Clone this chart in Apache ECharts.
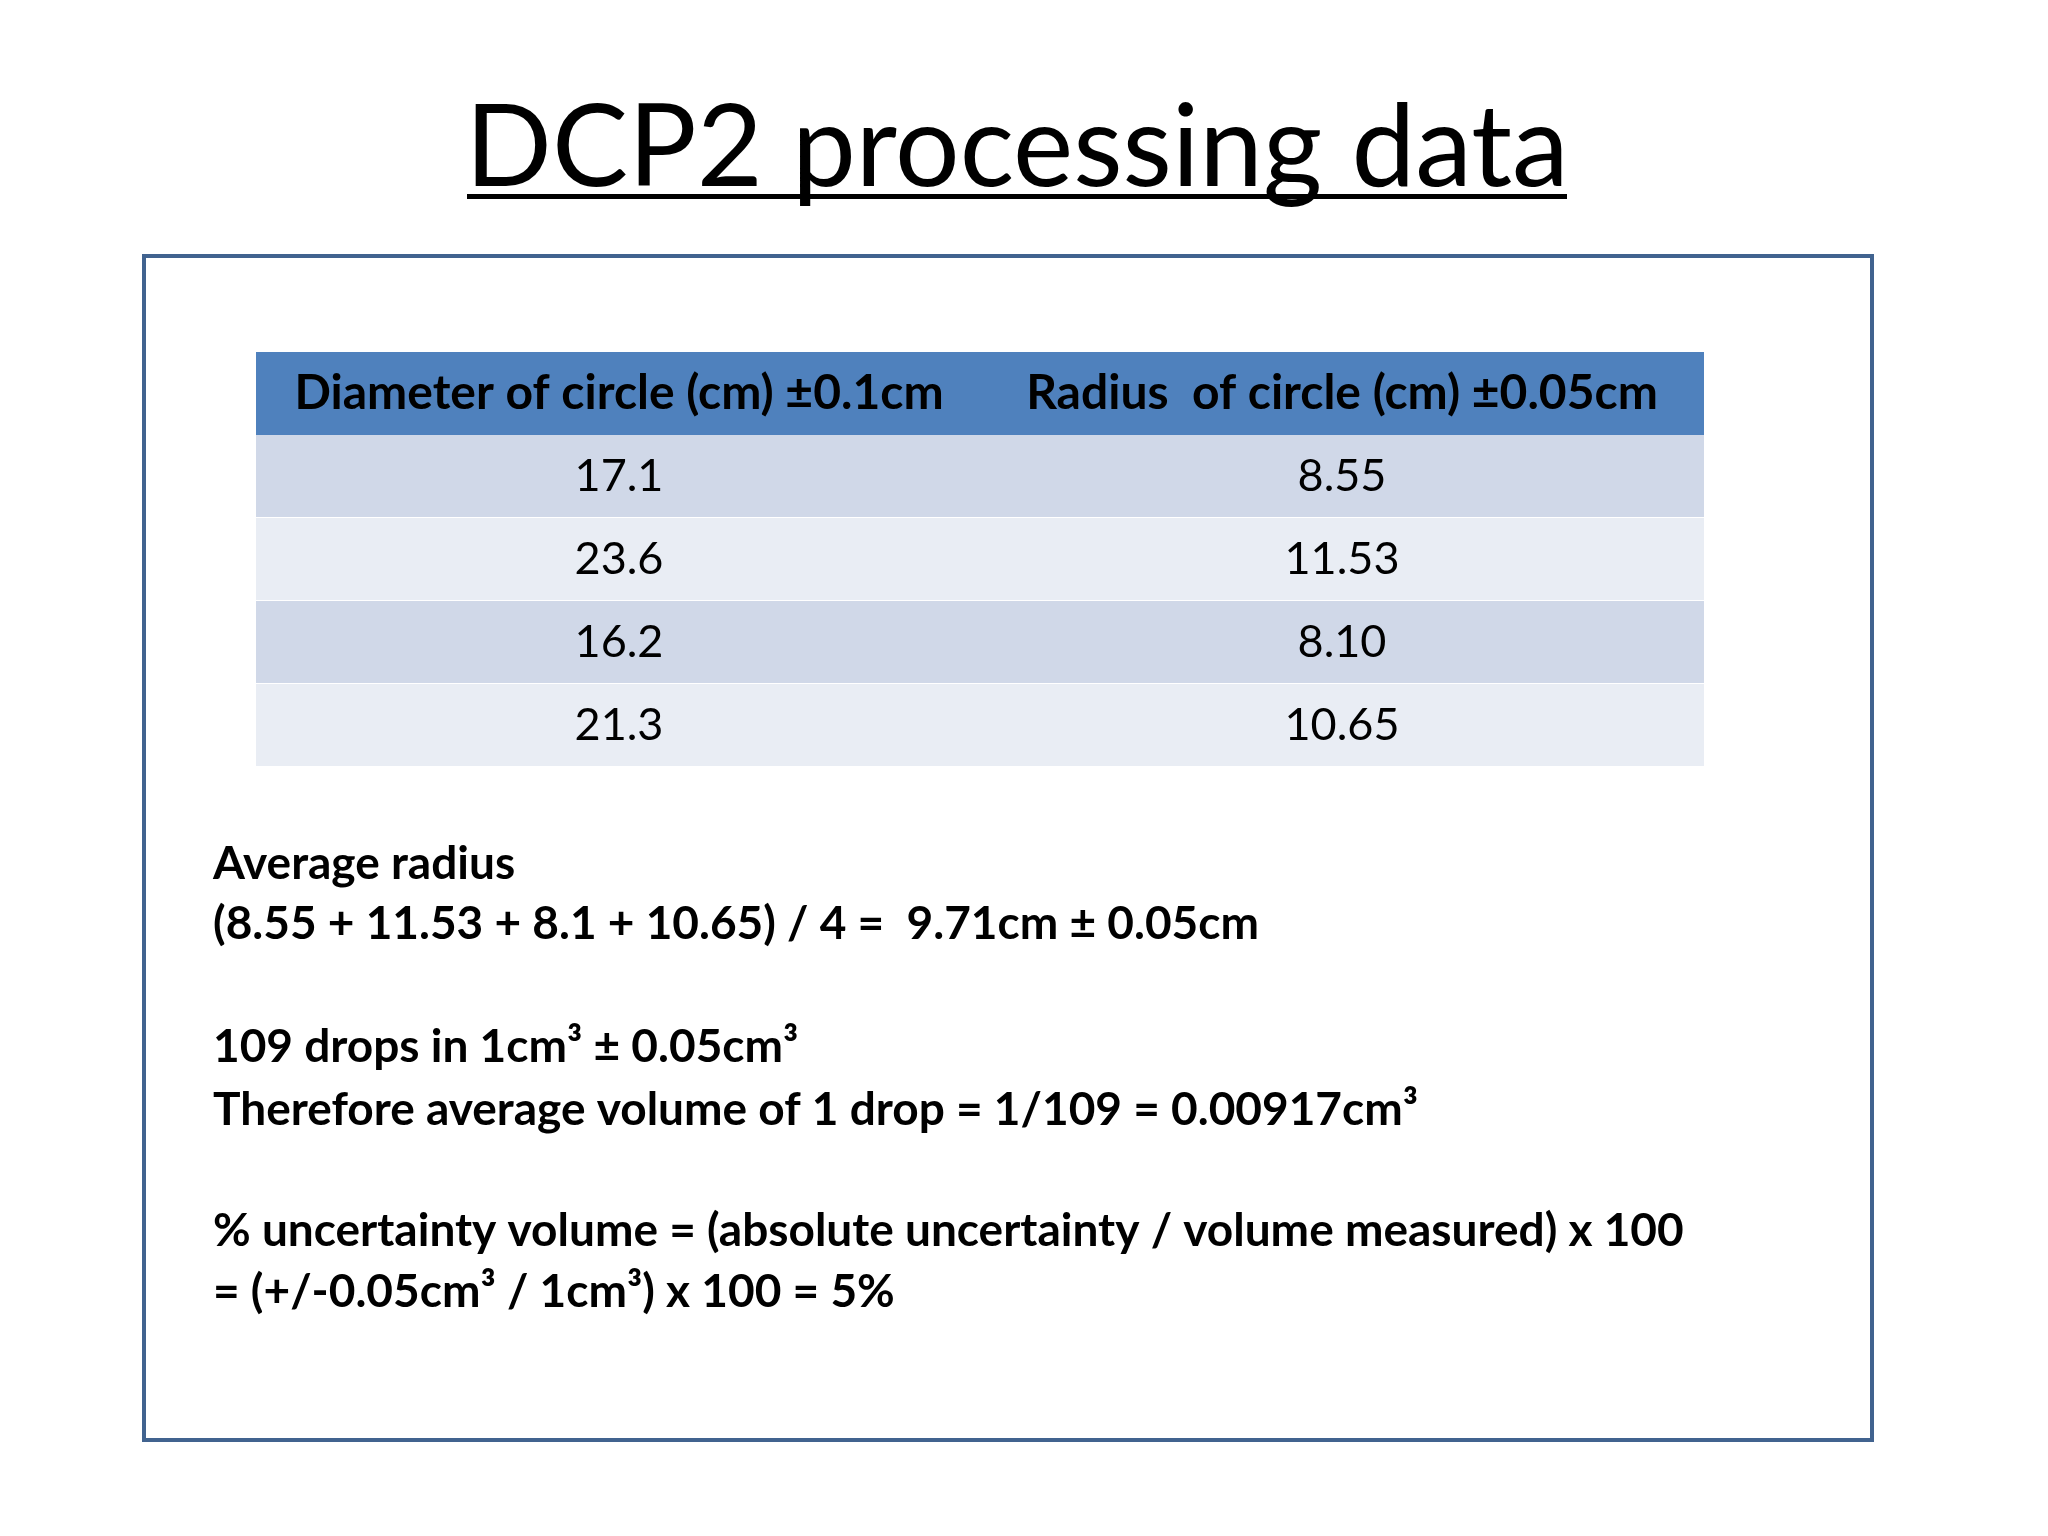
<!DOCTYPE html>
<html>
<head>
<meta charset="utf-8">
<script src="https://cdn.jsdelivr.net/npm/echarts@6/dist/echarts.min.js"></script>
<style>html,body{margin:0;padding:0;background:#fff}#main{width:2048px;height:1536px}</style>
</head>
<body>
<div id="main"></div>
<script>
const headers = ['Diameter of circle (cm) \u00b10.1cm', 'Radius  of circle (cm) \u00b10.05cm'];
const diameters = ['17.1', '23.6', '16.2', '21.3'];
const radii = ['8.55', '11.53', '8.10', '10.65'];
const notes = [
  'Average radius',
  '(8.55 + 11.53 + 8.1 + 10.65) / 4 =  9.71cm \u00b1 0.05cm',
  '',
  '109 drops in 1cm\u00b3 \u00b1 0.05cm\u00b3',
  'Therefore average volume of 1 drop = 1/109 = 0.00917cm\u00b3',
  '',
  '% uncertainty volume = (absolute uncertainty / volume measured) x 100',
  '= (+/-0.05cm\u00b3 / 1cm\u00b3) x 100 = 5%'
];

const chart = echarts.init(document.getElementById('main'));
const font = 'Lato, "Open Sans", sans-serif';
const tableX = 256, tableW = 1448, headY = 352, headH = 83, rowH = 83;
const colX = [619, 1342];
const els = [];

// title + underline
els.push({ type: 'text', x: 1017, y: 206, style: { text: 'DCP2 processing data', font: '114px ' + font, fill: '#000', align: 'center', verticalAlign: 'bottom' } });
els.push({ type: 'rect', shape: { x: 467, y: 194, width: 1100, height: 5 }, style: { fill: '#000' } });

// frame
els.push({ type: 'rect', shape: { x: 144, y: 256, width: 1728, height: 1184 }, style: { fill: 'none', stroke: '#41638f', lineWidth: 4 } });

// table header
els.push({ type: 'rect', shape: { x: tableX, y: headY, width: tableW, height: headH }, style: { fill: '#4f81bd' } });
headers.forEach((h, i) => {
  els.push({ type: 'text', x: colX[i], y: headY + headH / 2, style: { text: h, font: 'bold 48px ' + font, fill: '#000', align: 'center', verticalAlign: 'middle' } });
});
diameters.forEach((d, r) => {
  const y = headY + headH + r * rowH;
  els.push({ type: 'rect', shape: { x: tableX, y: y, width: tableW, height: rowH - 1 }, style: { fill: r % 2 ? '#e9edf4' : '#d0d8e8' } });
  [d, radii[r]].forEach((v, i) => {
    els.push({ type: 'text', x: colX[i], y: y + rowH / 2, style: { text: v, font: '45px ' + font, fill: '#000', align: 'center', verticalAlign: 'middle' } });
  });
});

// notes
const lineY = [887, 947, 0, 1070, 1133, 0, 1254, 1315];
notes.forEach((t, i) => {
  if (!t) return;
  els.push({ type: 'text', x: 213, y: lineY[i], style: { text: t, font: 'bold 46px ' + font, fill: '#000', verticalAlign: 'bottom' } });
});

chart.setOption({ backgroundColor: '#fff', graphic: { elements: els } });
</script>
</body>
</html>
